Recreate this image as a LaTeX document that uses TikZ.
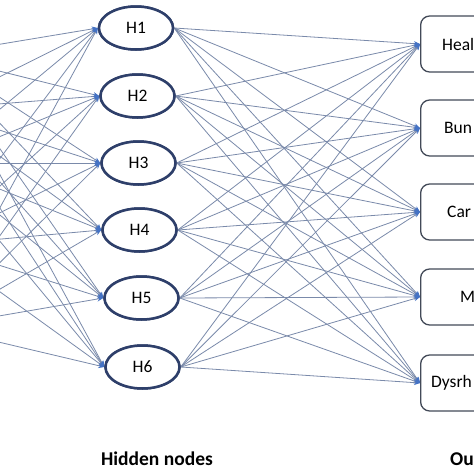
\documentclass[tikz,border=0pt]{standalone}
\usepackage{fontspec}
\setmainfont{Carlito}
\usetikzlibrary{shapes.geometric,arrows.meta}

\definecolor{linkgrey}{HTML}{7A8AAA}
\definecolor{tipblue}{HTML}{4472C4}
\definecolor{hidnavy}{HTML}{2E3F6A}
\definecolor{boxgrey}{HTML}{434A58}

\tikzset{
  hid/.style={draw=hidnavy, line width=2.5pt, ellipse, fill=white, inner sep=0pt,
    minimum width=74, minimum height=43, font=\fontsize{17.5}{20}\selectfont},
  outbox/.style={draw=boxgrey, line width=1.3pt, rounded corners=9pt, fill=white,
    minimum width=140, minimum height=56, anchor=west},
  outtext/.style={anchor=west, inner sep=0pt, font=\fontsize{17.5}{20}\selectfont},
  link/.style={draw=linkgrey, line width=0.8pt, -{Stealth[length=6pt,width=5pt,color=tipblue]}}
}

\begin{document}
\begin{tikzpicture}[x=1pt, y=-1pt]
\useasboundingbox (0,0) rectangle (474,474);
\fill[white] (0,0) rectangle (474,474);
\clip (0,0) rectangle (474,474);

% inputs (off the left edge)
\coordinate (i1) at (-65,55);
\coordinate (i2) at (-65,109);
\coordinate (i3) at (-65,163);
\coordinate (i4) at (-65,245);
\coordinate (i5) at (-65,327);

% hidden nodes
\node[hid] (h1) at (136,28) {H1};
\node[hid] (h2) at (137.5,96) {H2};
\node[hid] (h3) at (138.5,163) {H3};
\node[hid] (h4) at (139.5,230) {H4};
\node[hid] (h5) at (141.5,298) {H5};
\node[hid] (h6) at (142.5,367) {H6};

% output nodes
\node[outbox] (o1) at (420,44) {};
\node[outbox] (o2) at (420,128) {};
\node[outbox] (o3) at (420,212) {};
\node[outbox] (o4) at (420,297) {};
\node[outbox] (o5) at (420,383) {};
\node[outtext] (t1) at (442,44) {Heal};
\node[outtext] (t2) at (444,128) {Bun};
\node[outtext] (t3) at (447,212) {Car};
\node[outtext] (t4) at (460,297) {M};
\node[outtext] (t5) at (431,383) {Dysrh};

\foreach \i in {1,...,5}
  \foreach \j in {1,...,6}
    \draw[link] (i\i) -- (h\j.west);
\foreach \j in {1,...,6}
  \foreach \k in {1,...,5}
    \draw[link] (h\j.east) -- (o\k.west);

% nodes again, over the links
\foreach \j in {1,...,6}
  \node[hid] at (h\j) {H\j};

\node[font=\fontsize{19.5}{22}\selectfont\bfseries, anchor=base] (hidlab) at (157,465) {Hidden nodes};
\node[font=\fontsize{19.5}{22}\selectfont\bfseries, anchor=base west, inner sep=0pt] (outlab) at (450,465) {Ou};
\end{tikzpicture}
\end{document}
